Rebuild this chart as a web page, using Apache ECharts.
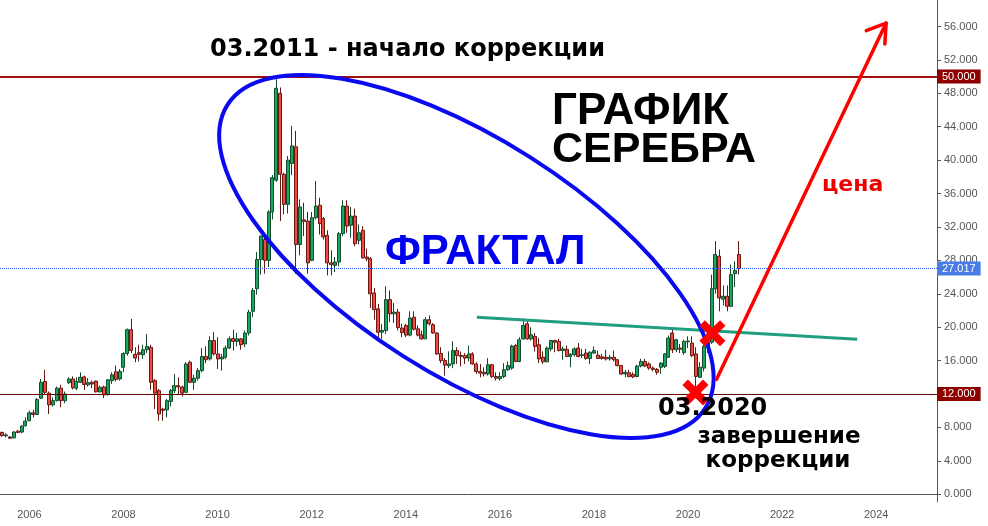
<!DOCTYPE html>
<html><head><meta charset="utf-8">
<script src="https://cdn.jsdelivr.net/npm/echarts@6/dist/echarts.min.js"></script>
<style>html,body{margin:0;padding:0;background:#fff}#c{width:988px;height:526px}</style>
</head><body><div id="c"></div>
<script>
// ---- categories: monthly bars, first month and number of months on the axis
const firstYear = 2005, firstMonth = 6, monthCount = 239;
const yearLabels = ['2006','2008','2010','2012','2014','2016','2018','2020','2022','2024'];

// ---- monthly OHLC (Jun 2005 ... Feb 2021)
const opens = [
 7.40,7.00,6.85,6.75,7.55,7.45,8.20,
 8.80,9.75,9.55,11.50,13.50,12.10,10.70,11.20,12.70,11.20,13.35,13.80,
 12.70,13.40,14.05,13.10,13.40,13.55,12.25,12.85,11.95,13.60,14.65,13.80,
 15.20,16.85,19.70,16.75,16.95,16.70,17.30,17.60,13.60,12.40,10.20,10.10,
 11.10,12.40,13.00,12.85,12.20,15.80,13.40,13.90,14.80,16.50,16.20,18.40,
 16.80,16.20,16.40,17.50,18.65,18.30,18.60,18.00,19.30,21.90,24.60,28.10,
 30.50,28.00,33.80,37.60,48.00,38.30,34.70,39.60,41.60,29.90,32.85,32.70,
 28.00,33.10,34.60,33.00,31.00,27.70,27.40,27.80,31.20,34.50,32.20,33.30,
 30.40,31.60,28.40,28.20,24.10,22.20,19.40,19.60,23.30,21.60,21.80,19.90,
 20.20,19.05,21.20,19.80,19.10,18.60,20.90,20.30,19.30,16.85,16.00,15.40,
 15.60,17.20,16.60,16.60,16.30,16.80,15.60,14.70,14.60,14.40,15.50,14.10,
 13.85,14.10,14.90,15.10,17.80,15.90,18.60,20.40,18.60,18.90,17.90,16.40,
 15.85,17.40,18.40,18.30,17.20,17.35,16.50,16.70,17.50,16.60,16.90,16.25,
 16.90,16.65,16.45,16.40,16.20,16.40,16.10,15.40,14.40,14.55,14.35,14.10,
 15.35,15.90,15.60,15.10,14.95,15.20,15.30,16.40,19.30,17.30,17.50,16.95,
 18.25,18.10,16.80,14.00,15.10,17.70,18.20,24.60,28.50,23.35,23.70,22.50,
 26.40,28.70];
const closes = [
 7.00,7.10,6.70,7.45,7.40,8.15,8.75,
 9.75,9.55,11.35,13.40,12.20,10.70,11.20,12.70,11.20,12.00,13.80,12.75,
 13.50,14.00,13.15,13.35,13.20,12.25,12.80,11.90,13.70,14.30,13.75,14.70,
 16.85,19.70,17.20,16.30,16.75,17.30,17.70,13.40,12.10,9.60,10.05,11.20,
 12.40,13.00,12.85,12.10,15.60,13.40,13.90,14.80,16.50,16.10,18.40,16.80,
 16.20,16.40,17.50,18.60,18.30,18.60,17.90,19.30,21.80,24.40,28.10,30.90,
 28.00,33.80,37.90,48.60,38.30,34.70,40.00,41.70,29.90,34.40,32.65,27.70,
 33.10,34.50,32.40,30.80,27.70,27.50,27.80,31.20,34.50,32.10,33.30,30.00,
 31.30,28.30,28.20,24.00,22.10,19.40,19.60,23.30,21.60,21.80,19.95,19.35,
 19.05,21.10,19.75,19.05,18.60,20.90,20.40,19.30,16.80,16.00,15.45,15.60,
 17.20,16.60,16.50,16.30,16.80,15.60,14.70,14.50,14.40,15.50,14.10,13.90,
 14.10,14.90,15.40,17.75,15.90,18.50,20.20,18.60,19.10,17.70,16.20,15.85,
 17.50,18.40,18.20,17.20,17.40,16.50,16.75,17.40,16.50,16.70,16.25,17.00,
 17.20,16.25,16.25,16.20,16.40,16.10,15.40,14.40,14.60,14.10,14.05,15.35,
 15.90,15.35,15.10,14.95,14.60,15.70,16.80,18.70,17.30,18.50,17.35,18.30,
 18.35,16.60,14.10,15.20,17.70,18.20,24.60,28.70,23.50,23.70,22.50,26.30,
 26.80,27.017];
const lows = [
 6.90,6.80,6.65,6.70,7.30,7.30,8.10,
 8.75,9.20,9.50,11.40,11.90,9.60,10.50,11.10,10.40,10.90,13.20,12.55,
 12.45,13.30,12.50,12.90,12.70,12.20,12.20,11.50,11.80,13.20,13.50,13.60,
 14.60,16.60,16.90,15.80,15.90,16.20,16.90,12.50,10.20,8.80,8.80,9.20,
 10.50,12.10,11.90,11.70,12.10,13.30,12.50,13.60,14.60,15.70,16.00,16.60,
 15.00,14.80,16.20,17.40,17.20,17.70,17.30,17.60,19.00,21.20,23.90,26.30,
 26.40,27.20,32.90,37.40,32.70,33.50,33.60,38.20,26.40,28.60,30.90,26.40,
 27.90,32.90,31.10,30.50,26.20,26.20,26.60,27.30,30.90,31.30,30.70,29.70,
 29.90,28.20,27.90,22.30,20.90,18.60,18.60,19.20,20.60,20.50,19.60,18.80,
 18.80,18.90,19.60,18.90,18.50,18.60,20.20,19.20,16.70,15.70,14.20,15.10,
 15.10,15.60,15.30,15.60,15.90,15.50,14.40,14.00,14.10,14.20,13.90,13.60,
 13.60,13.90,14.80,14.90,15.80,15.80,18.50,18.50,18.40,17.10,15.70,15.60,
 15.80,17.10,17.00,17.10,16.10,16.40,15.20,16.50,16.40,16.30,16.10,15.60,
 16.80,16.20,16.10,16.00,16.00,15.90,15.30,14.30,14.00,14.00,13.90,14.00,
 15.20,15.20,14.90,14.70,14.30,14.40,15.10,16.30,16.90,17.00,16.90,16.70,
 17.50,16.40,11.70,13.90,14.70,16.90,18.00,24.00,21.90,22.60,21.90,22.40,
 24.80,26.30];
const highs = [
 7.50,7.30,6.95,7.55,7.70,8.30,9.20,
 10.00,10.10,11.50,13.80,14.90,12.30,11.60,12.90,13.10,12.30,14.00,14.10,
 14.00,14.60,14.20,13.90,13.60,13.60,13.00,13.00,13.80,14.60,15.40,15.00,
 17.00,19.85,21.00,17.60,17.90,17.90,19.20,17.90,13.80,12.60,10.35,11.40,
 12.60,14.40,14.00,13.00,15.80,16.00,14.30,15.10,17.50,17.70,18.90,19.40,
 18.80,16.80,17.80,18.90,19.70,19.30,18.70,19.60,22.10,24.70,29.00,31.00,
 31.20,34.00,38.20,49.70,48.70,38.50,40.50,44.10,43.50,35.30,34.90,33.80,
 33.80,37.50,35.50,33.20,31.60,29.20,28.40,31.40,35.20,35.20,34.40,34.20,
 32.30,32.10,29.40,28.40,24.70,22.80,20.40,24.90,24.40,22.90,22.20,20.40,
 20.40,21.90,21.90,20.20,19.60,21.20,21.40,20.50,19.40,17.60,16.30,17.10,
 18.30,17.60,17.10,16.90,17.80,17.00,15.80,15.60,15.20,16.30,15.60,14.60,
 14.60,15.70,15.90,17.90,18.00,18.80,21.10,20.70,20.00,19.30,18.70,17.10,
 17.70,18.50,18.50,18.60,17.70,17.80,16.90,17.60,18.10,17.40,17.40,17.10,
 17.70,17.20,16.80,17.30,16.70,17.20,16.20,15.50,14.90,14.90,14.60,15.50,
 16.20,16.20,15.80,15.30,15.10,15.80,16.90,19.00,19.70,18.60,18.00,18.50,
 18.90,18.90,17.60,15.80,17.90,18.50,26.30,30.30,29.30,25.00,25.00,27.50,
 27.90,30.30];

// ---- horizontal price levels
const levelHigh = 50, levelLow = 12, lastPrice = 27.017;

// ---- annotation geometry in (decimal year, price)
const trendLine   = [[2015.553, 21.19], [2023.636, 18.55]];
const arrowShaft  = [[2020.645, 13.74], [2024.252, 56.41]];
const arrowHead   = [[2023.830, 55.50], [2024.252, 56.41], [2024.225, 53.90]];
const crossMarks  = [[2020.560, 19.27], [2020.199, 12.18]];
const ellipseCenter = [2015.330, 28.46];

// build categories
const months = [];
for (let i = 0; i < monthCount; i++) {
  const m = firstMonth - 1 + i;
  const y = firstYear + Math.floor(m / 12);
  const mm = (m % 12) + 1;
  months.push(y + '-' + (mm < 10 ? '0' + mm : '' + mm));
}
const ohlc = opens.map((o, i) => [o, closes[i], lows[i], highs[i]]);
const tStart = firstYear + (firstMonth - 1) / 12;
const tEnd = tStart + monthCount / 12;

const chart = echarts.init(document.getElementById('c'), null, {renderer: 'canvas'});
const axisFont = "'Liberation Sans', Arial, sans-serif";
const option = {
  animation: false,
  backgroundColor: '#ffffff',
  grid: {left: -1.7, right: 51, top: 0, bottom: 24, containLabel: false},
  xAxis: [{
    type: 'category', data: months, boundaryGap: true,
    axisLine: {lineStyle: {color: '#555', width: 1}},
    axisTick: {show: false},
    splitLine: {show: false},
    axisLabel: {
      interval: (idx, v) => v.endsWith('-01') && yearLabels.indexOf(v.slice(0, 4)) >= 0,
      formatter: v => v.slice(0, 4),
      color: '#555', fontSize: 11, margin: 7,
      fontFamily: "'Liberation Sans Narrow', 'Arial Narrow', 'Liberation Sans', sans-serif"
    }
  }, {
    type: 'value', min: tStart, max: tEnd, show: false
  }],
  yAxis: [{
    type: 'value', position: 'right', min: -0.93, max: 59.17,
    minInterval: 4, maxInterval: 4, splitNumber: 15,
    axisLine: {show: true, lineStyle: {color: '#555', width: 1}},
    axisTick: {show: true, length: 4, lineStyle: {color: '#555'}},
    splitLine: {show: false},
    axisLabel: {
      formatter: v => v.toFixed(3), color: '#555', fontSize: 11, margin: 7,
      fontFamily: axisFont, showMinLabel: false, showMaxLabel: false
    }
  }],
  series: [{
    type: 'candlestick', xAxisIndex: 0, yAxisIndex: 0, data: ohlc,
    barWidth: 3.5, z: 2,
    itemStyle: {color: '#16a85e', color0: '#f04a43', borderColor: '#154a2e', borderColor0: '#661812', borderWidth: 1},
    markLine: {
      silent: true, animation: false, symbol: ['none', 'none'], precision: 3,
      label: {show: true, position: 'end', distance: 0, formatter: p => Number(p.value).toFixed(3),
        color: '#fff', fontSize: 11, fontFamily: axisFont, padding: [1, 5, 1, 5], lineHeight: 12},
      data: [
        {yAxis: levelHigh, lineStyle: {color: '#a01010', width: 2, type: 'solid'}, label: {backgroundColor: '#8e0000'}},
        {yAxis: levelLow, lineStyle: {color: '#6a0000', width: 1, type: 'solid'}, label: {backgroundColor: '#8e0000'}},
        {yAxis: lastPrice, lineStyle: {color: '#2457ff', width: 1, type: 'dotted'}, label: {backgroundColor: '#4a7ce6'}}
      ]
    }
  }, {
    type: 'line', xAxisIndex: 1, yAxisIndex: 0, data: trendLine, symbol: 'none', silent: true, z: 3,
    lineStyle: {color: '#1f9e80', width: 3}
  }, {
    type: 'line', xAxisIndex: 1, yAxisIndex: 0, data: arrowShaft, symbol: 'none', silent: true, z: 6,
    lineStyle: {color: '#ff0000', width: 3.5, cap: 'round'}
  }, {
    type: 'line', xAxisIndex: 1, yAxisIndex: 0, data: arrowHead, symbol: 'none', silent: true, z: 6,
    lineStyle: {color: '#ff0000', width: 3.5, cap: 'round', join: 'round'}
  }, {
    type: 'scatter', xAxisIndex: 1, yAxisIndex: 0, data: crossMarks, silent: true, z: 7,
    symbol: 'path://M5,0 L12,7 L19,0 L24,5 L17,12 L24,19 L19,24 L12,17 L5,24 L0,19 L7,12 L0,5 Z',
    symbolSize: [26, 26], itemStyle: {color: '#ff0000', opacity: 1}
  }]
};
chart.setOption(option);

const c = chart.convertToPixel({xAxisIndex: 1, yAxisIndex: 0}, ellipseCenter);
const boldD = (s) => 'bold ' + s + 'px "DejaVu Sans", sans-serif';
const boldL = (s) => 'bold ' + s + 'px "Liberation Sans", Arial, sans-serif';
chart.setOption({
  graphic: [
    {type: 'ellipse', x: c[0], y: c[1], rotation: -0.5655, z: 5, silent: true,
     shape: {cx: 0, cy: 0, rx: 283, ry: 118},
     style: {fill: 'none', stroke: '#0a0af0', lineWidth: 4}},
    {type: 'text', x: 210, y: 50, z: 10, style: {text: '03.2011 - начало коррекции', font: boldD(24), fill: '#000', align: 'left', verticalAlign: 'middle'}},
    {type: 'text', x: 552, y: 112, z: 10, style: {text: 'ГРАФИК', font: boldL(44), fill: '#000', align: 'left', verticalAlign: 'middle'}},
    {type: 'text', x: 552, y: 150, z: 10, style: {text: 'СЕРЕБРА', font: boldL(43), fill: '#000', align: 'left', verticalAlign: 'middle'}},
    {type: 'text', x: 385, y: 252, z: 10, style: {text: 'ФРАКТАЛ', font: boldL(42), fill: '#0000f0', align: 'left', verticalAlign: 'middle'}},
    {type: 'text', x: 822, y: 185, z: 10, style: {text: 'цена', font: boldD(22), fill: '#ee0000', align: 'left', verticalAlign: 'middle'}},
    {type: 'text', x: 658, y: 409, z: 10, style: {text: '03.2020', font: boldD(24), fill: '#000', align: 'left', verticalAlign: 'middle'}},
    {type: 'text', x: 779, y: 437, z: 10, style: {text: 'завершение', font: boldD(23), fill: '#000', align: 'center', verticalAlign: 'middle'}},
    {type: 'text', x: 778, y: 461, z: 10, style: {text: 'коррекции', font: boldD(23), fill: '#000', align: 'center', verticalAlign: 'middle'}}
  ]
});
</script></body></html>
